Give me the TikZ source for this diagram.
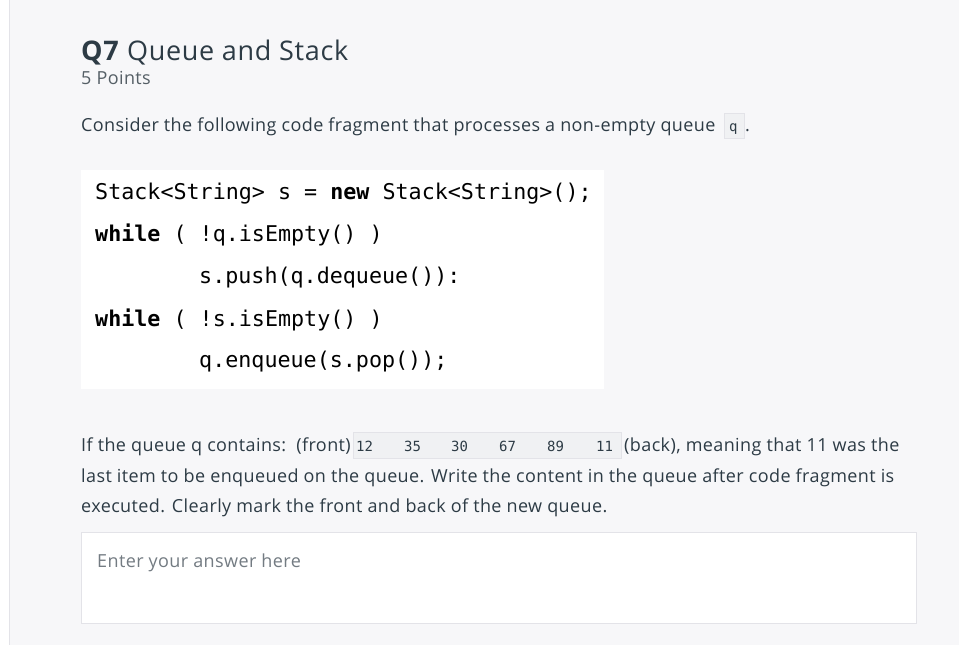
\documentclass[tikz,border=0pt]{standalone}
\usepackage{fontspec}
\setmainfont{Open Sans}[LetterSpace=2.2]
\newfontfamily\titlefont{Open Sans}[LetterSpace=2.5]
\newfontfamily\codefont{DejaVu Sans Mono}
\definecolor{pagebg}{HTML}{F7F7F9}
\definecolor{bordc}{HTML}{E3E3E8}
\definecolor{txt}{HTML}{2D3B45}
\definecolor{sub}{HTML}{555F66}
\definecolor{codebg}{HTML}{F0F1F3}
\definecolor{ph}{HTML}{737B82}
\tikzset{
  t/.style={anchor=base west,inner sep=0pt,text=txt,font=\fontsize{18}{20}\selectfont},
  cd/.style={anchor=base west,inner sep=0pt,text=black,font=\codefont\fontsize{21.7}{24}\selectfont},
  ic/.style={anchor=base west,inner sep=0pt,text=txt,font=\codefont\fontsize{14}{16}\selectfont},
}
\begin{document}
\begin{tikzpicture}[x=1pt,y=-1pt]
\useasboundingbox (0,0) rectangle (959,645);
\fill[white] (0,0) rectangle (959,645);
\fill[pagebg] (9,0) rectangle (959,645);
\draw[bordc] (9,0) -- (9,645);
\node[t,font=\titlefont\fontsize{27}{30}\selectfont] (title) at (81,60) {\textbf{Q7} Queue and Stack};
\node[t,text=sub] (pts) at (81,84) {5 Points};
\node[t] (cons) at (81,131) {Consider the following code fragment that processes a non-empty queue};
\fill[codebg,draw=bordc] (724,113) rectangle (744,138);
\node[ic] (q) at (729,131) {q};
\node[t] (dot) at (745,131) {.};
\fill[white] (81,170) rectangle (604,389);
\node[cd] (c1) at (95,199) {Stack<String> s = \textbf{new} Stack<String>();};
\node[cd] (c2) at (95,241) {\textbf{while} ( !q.isEmpty() )};
\node[cd] (c3) at (199,283) {s.push(q.dequeue()):};
\node[cd] (c4) at (95,326) {\textbf{while} ( !s.isEmpty() )};
\node[cd] (c5) at (199,367) {q.enqueue(s.pop());};
\node[t] (p1) at (81,451) {If the queue q contains:\ \ (front)};
\fill[codebg,draw=bordc] (353,432) rectangle (621,458);
\foreach \v/\x in {12/356,35/404,30/451,67/499,89/547,11/596}
  \node[ic] at (\x,451) {\v};
\node[t] (p2) at (624,451) {(back), meaning that 11 was the};
\node[t] (p3) at (81,482) {last item to be enqueued on the queue. Write the content in the queue after code fragment is};
\node[t] (p4) at (81,512) {executed. Clearly mark the front and back of the new queue.};
\draw[white,fill=white] (81,532) rectangle (916,623);
\draw[bordc] (81,532) rectangle (916,623);
\node[t,text=ph] (ans) at (97,567) {Enter your answer here};
\end{tikzpicture}
\end{document}
